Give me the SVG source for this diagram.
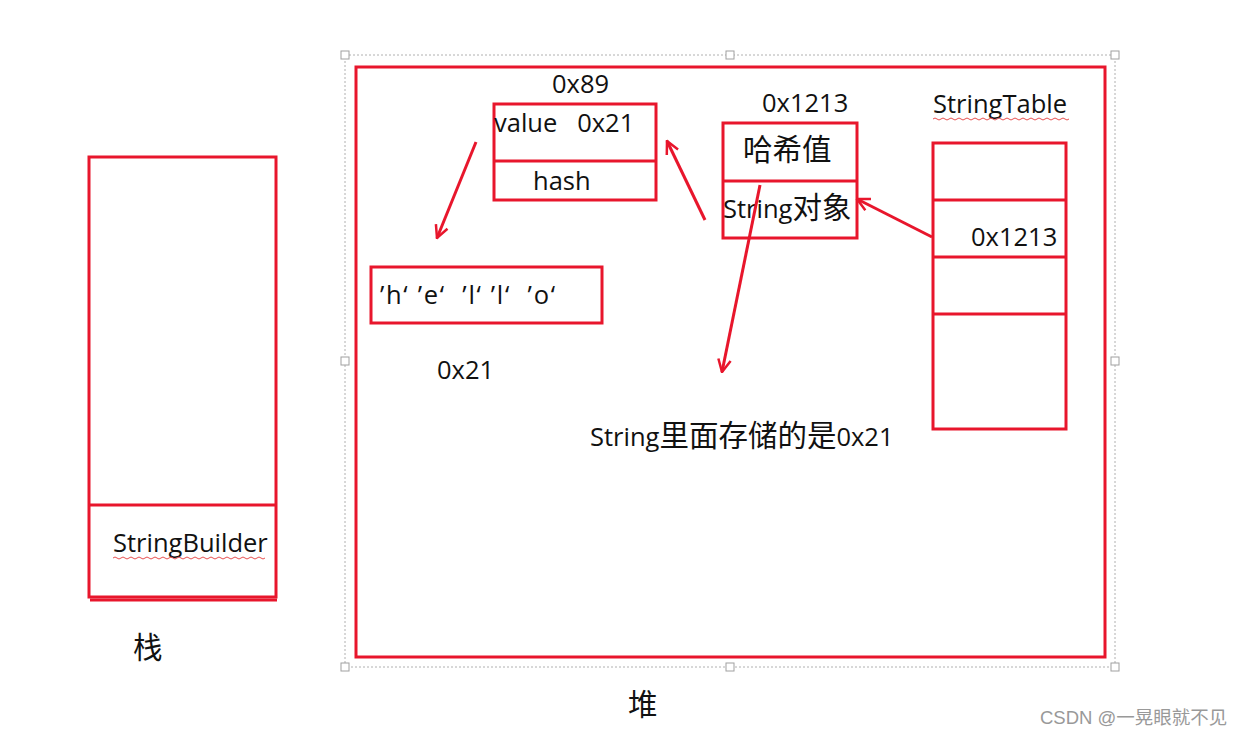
<svg xmlns="http://www.w3.org/2000/svg" width="1245" height="736" viewBox="0 0 1245 736">
<defs>
<style>
.r{fill:none;stroke:#e8162c;stroke-width:3}
.t{font-family:"Open Sans","Noto Sans CJK SC",sans-serif;font-size:25.5px;fill:#111}
.cj{font-family:"Noto Sans CJK SC",sans-serif;font-size:29.5px}
.sel{fill:none;stroke:#b0b0b0;stroke-width:1;stroke-dasharray:2 2}
.h{fill:#fff;stroke:#a0a0a0;stroke-width:1}
.c{stroke:#e8162c;stroke-width:3;fill:none}
.w{fill:none;stroke:#e85050;stroke-width:1}
</style>
<marker id="a" viewBox="0 0 12 12" refX="11" refY="6" markerWidth="5" markerHeight="5" orient="auto" markerUnits="strokeWidth">
<path d="M1,1 L11,6 L1,11" fill="none" stroke="#e8162c" stroke-width="2"/>
</marker>
</defs>
<rect width="1245" height="736" fill="#fff"/>
<g id="selection">
<rect class="sel" x="345" y="55" width="770" height="612"/>
<rect class="h" x="341" y="51" width="8" height="8"/>
<rect class="h" x="726" y="51" width="8" height="8"/>
<rect class="h" x="1111" y="51" width="8" height="8"/>
<rect class="h" x="341" y="357" width="8" height="8"/>
<rect class="h" x="1111" y="357" width="8" height="8"/>
<rect class="h" x="341" y="663" width="8" height="8"/>
<rect class="h" x="726" y="663" width="8" height="8"/>
<rect class="h" x="1111" y="663" width="8" height="8"/>
</g>
<g id="heap">
<rect class="r" x="356" y="67" width="749" height="590"/>
<text class="t" x="628" y="715"><tspan class="cj">堆</tspan></text>
</g>
<g id="stack">
<rect class="r" x="89" y="157" width="187" height="440"/>
<line class="r" x1="89" y1="505" x2="276" y2="505"/>
<line class="r" x1="90" y1="600" x2="277" y2="600"/>
<text class="t" x="113" y="552">StringBuilder</text>
<path class="w" d="M113,558 q2,-2 4,0 t4,0 t4,0 t4,0 t4,0 t4,0 t4,0 t4,0 t4,0 t4,0 t4,0 t4,0 t4,0 t4,0 t4,0 t4,0 t4,0 t4,0 t4,0 t4,0 t4,0 t4,0 t4,0 t4,0 t4,0 t4,0 t4,0 t4,0 t4,0 t4,0 t4,0 t4,0 t4,0 t4,0 t4,0 t4,0 t4,0 t4,0"/>
<text class="t" x="133" y="658"><tspan class="cj">栈</tspan></text>
</g>
<g id="string-0x89">
<text class="t" x="552" y="93">0x89</text>
<rect class="r" x="494" y="104" width="162" height="96"/>
<line class="r" x1="494" y1="161" x2="656" y2="161"/>
<text class="t" x="494" y="132" xml:space="preserve">value   0x21</text>
<text class="t" x="533" y="190">hash</text>
</g>
<g id="string-0x1213">
<text class="t" x="762" y="112">0x1213</text>
<rect class="r" x="723" y="123" width="134" height="115"/>
<line class="r" x1="723" y1="181" x2="857" y2="181"/>
<text class="t" x="743" y="160"><tspan class="cj">哈希值</tspan></text>
<text class="t" x="723" y="218">String<tspan class="cj">对象</tspan></text>
</g>
<g id="stringtable">
<text class="t" x="933" y="113">StringTable</text>
<path class="w" d="M933,119 q2,-2 4,0 t4,0 t4,0 t4,0 t4,0 t4,0 t4,0 t4,0 t4,0 t4,0 t4,0 t4,0 t4,0 t4,0 t4,0 t4,0 t4,0 t4,0 t4,0 t4,0 t4,0 t4,0 t4,0 t4,0 t4,0 t4,0 t4,0 t4,0 t4,0 t4,0 t4,0 t4,0 t4,0 t4,0"/>
<rect class="r" x="933" y="143" width="133" height="286"/>
<line class="r" x1="933" y1="200" x2="1066" y2="200"/>
<line class="r" x1="933" y1="257" x2="1066" y2="257"/>
<line class="r" x1="933" y1="314" x2="1066" y2="314"/>
<text class="t" x="971" y="246">0x1213</text>
</g>
<g id="char-array">
<rect class="r" x="371" y="267" width="231" height="56"/>
<text class="t" x="380" y="304" xml:space="preserve" textLength="175" lengthAdjust="spacing">’h‘ ’e‘  ’l‘ ’l‘  ’o‘</text>
<text class="t" x="437" y="379">0x21</text>
</g>
<g id="note">
<text class="t" x="590" y="446">String<tspan class="cj">里面存储的是</tspan>0x21</text>
</g>
<g id="connectors">
<line class="c" x1="476" y1="142" x2="437" y2="238" marker-end="url(#a)"/>
<line class="c" x1="705" y1="220" x2="667" y2="141" marker-end="url(#a)"/>
<line class="c" x1="760" y1="185" x2="722" y2="372" marker-end="url(#a)"/>
<line class="c" x1="932" y1="237" x2="857" y2="199" marker-end="url(#a)"/>
</g>
<text x="1040" y="724" font-family="'Liberation Sans','Noto Sans CJK SC',sans-serif" font-size="18.5" fill="#999">CSDN @一晃眼就不见</text>
</svg>
